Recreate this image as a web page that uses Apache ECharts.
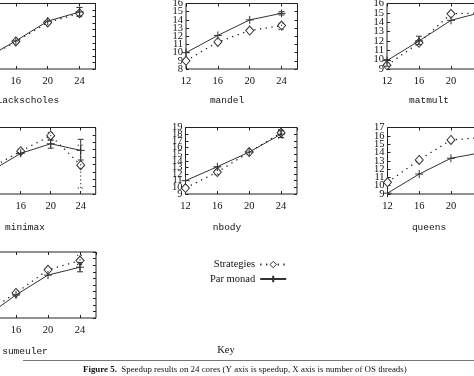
<!DOCTYPE html>
<html>
<head>
<meta charset="utf-8">
<script src="https://cdn.jsdelivr.net/npm/echarts@6/dist/echarts.min.js"></script>
<style>
  html, body { margin: 0; padding: 0; background: #fff; }
  #chart { width: 474px; height: 376px; }
</style>
</head>
<body>
<div id="chart"></div>
<script>
// x values: number of OS threads
const threads = [12, 16, 20, 24]

// speedup per benchmark
const blackscholesStrat = [9.4, 12.2, 15.1, 16.5]
const blackscholesPar   = [9.5, 12.3, 15.3, 16.7]
const mandelStrat       = [9.0, 11.3, 12.7, 13.3]
const mandelPar         = [10.0, 12.1, 14.0, 14.8]
const matmultStrat      = [9.4, 11.8, 14.9, 15.0]
const matmultPar        = [9.9, 12.0, 14.2, 15.1]
const minimaxStrat      = [6.5, 8.8, 10.9, 6.9]
const minimaxPar        = [6.1, 8.5, 9.8, 8.9]
const nbodyStrat        = [9.9, 12.3, 15.3, 18.2]
const nbodyPar          = [11.0, 13.1, 15.3, 18.0]
const queensStrat       = [10.4, 13.1, 15.5, 15.8]
const queensPar         = [9.1, 11.4, 13.3, 14.0]
const sumeulerStrat     = [10.6, 13.8, 17.3, 18.7]
const sumeulerPar       = [10.0, 13.5, 16.5, 17.7]

// error bars [low, high], null where too small to see
const blackscholesStratErr = [null, null, null, [16.0, 17.4]]
const blackscholesParErr   = [null, null, null, [16.1, 17.4]]
const mandelStratErr       = [null, null, null, [12.8, 13.6]]
const mandelParErr         = [null, null, null, [14.6, 15.0]]
const matmultStratErr      = [null, null, null, null]
const matmultParErr        = [[9.3, 10.0], [11.6, 12.5], null, null]
const minimaxStratErr      = [null, [8.6, 9.1], [10.3, 11.3], [3.8, 9.6]]
const minimaxParErr        = [null, null, [9.2, 10.3], [7.6, 10.4]]
const nbodyStratErr        = [null, [11.9, 13.0], null, [17.4, 18.7]]
const nbodyParErr          = [null, null, null, [17.5, 18.5]]
const queensStratErr       = [null, null, null, null]
const queensParErr         = [null, null, null, null]
const sumeulerStratErr     = [null, null, null, [18.1, 19.5]]
const sumeulerParErr       = [null, null, null, [17.0, 18.4]]

const legendNames = ['Strategies', 'Par monad']

const plots = [
  { name: 'blackscholes', strat: blackscholesStrat, par: blackscholesPar, stratErr: blackscholesStratErr, parErr: blackscholesParErr, yMin: 8, yMax: 18, left: -16, top: 3.5, width: 111.5, height: 65.5, tx: 25, ty: 100 },
  { name: 'mandel', strat: mandelStrat, par: mandelPar, stratErr: mandelStratErr, parErr: mandelParErr, yMin: 8, yMax: 16, left: 186, top: 3.5, width: 111.5, height: 65.5, tx: 227, ty: 100 },
  { name: 'matmult', strat: matmultStrat, par: matmultPar, stratErr: matmultStratErr, parErr: matmultParErr, yMin: 9, yMax: 16, left: 387, top: 3.5, width: 112, height: 65.5, tx: 429, ty: 100 },
  { name: 'minimax', strat: minimaxStrat, par: minimaxPar, stratErr: minimaxStratErr, parErr: minimaxParErr, yMin: 3, yMax: 12, left: -9.3, top: 127.5, width: 105, height: 66.5, tx: 25, ty: 227 },
  { name: 'nbody', strat: nbodyStrat, par: nbodyPar, stratErr: nbodyStratErr, parErr: nbodyParErr, yMin: 9, yMax: 19, left: 185.5, top: 127.5, width: 111.5, height: 66.5, tx: 227, ty: 227 },
  { name: 'queens', strat: queensStrat, par: queensPar, stratErr: queensStratErr, parErr: queensParErr, yMin: 9, yMax: 17, left: 387.5, top: 127.5, width: 111, height: 66.5, tx: 429, ty: 227 },
  { name: 'sumeuler', strat: sumeulerStrat, par: sumeulerPar, stratErr: sumeulerStratErr, parErr: sumeulerParErr, yMin: 10, yMax: 20, left: -16, top: 252, width: 112, height: 66, tx: 25, ty: 351 }
]

const serif = 'Liberation Serif'
const mono = 'Liberation Mono'
const ink = '#222'

const chart = echarts.init(document.getElementById('chart'), null, { renderer: 'canvas' })

const grid = []
const xAxis = []
const yAxis = []
const series = []
const graphic = []

const tick = { show: true, inside: true, length: 3, lineStyle: { color: ink, width: 1 } }
const label = { fontFamily: serif, fontSize: 10.5, color: '#111' }

// vertical bar with small caps, dotted for Strategies
const errorBar = (dotted) => (params, api) => {
  const x = api.value(0)
  const lo = api.coord([x, api.value(1)])
  const hi = api.coord([x, api.value(2)])
  const w = 3
  const style = { stroke: '#333', lineWidth: 1, lineDash: dotted ? [1.3, 2.5] : null }
  return {
    type: 'group',
    children: [
      { type: 'line', shape: { x1: lo[0], y1: lo[1], x2: hi[0], y2: hi[1] }, style },
      { type: 'line', shape: { x1: lo[0] - w, y1: lo[1], x2: lo[0] + w, y2: lo[1] }, style },
      { type: 'line', shape: { x1: hi[0] - w, y1: hi[1], x2: hi[0] + w, y2: hi[1] }, style }
    ]
  }
}

const errData = (err) => threads.map((t, k) => err[k] ? [t, err[k][0], err[k][1]] : null).filter(Boolean)

// integer tick labels for a y range
const tickLabels = (lo, hi) => Array.from({ length: hi - lo + 1 }, (_, k) => String(lo + k))

plots.forEach((p, i) => {
  // the figure is cropped, so grids are allowed to run past the page edges
  grid.push({ left: p.left, top: p.top, width: p.width, height: p.height, outerBoundsMode: 'none', containLabel: false,
    show: true, borderColor: ink, borderWidth: 1, backgroundColor: 'transparent' })

  // bottom axis with labels, top axis as mirror ticks
  xAxis.push({ gridIndex: i, type: 'value', position: 'bottom', min: 12, max: 26, interval: 4,
    axisLine: { show: false }, axisTick: tick, splitLine: { show: false },
    axisLabel: { ...label, margin: 7, showMaxLabel: false } })
  xAxis.push({ gridIndex: i, type: 'value', position: 'top', min: 12, max: 26, interval: 4,
    axisLine: { show: false }, axisTick: tick, splitLine: { show: false }, axisLabel: { show: false } })

  // value axes carry the data and the ticks
  yAxis.push({ gridIndex: i, type: 'value', position: 'left', min: p.yMin, max: p.yMax, interval: 1,
    axisLine: { show: false }, axisTick: tick, splitLine: { show: false }, axisLabel: { show: false } })
  yAxis.push({ gridIndex: i, type: 'value', position: 'right', min: p.yMin, max: p.yMax, interval: 1,
    axisLine: { show: false }, axisTick: tick, splitLine: { show: false }, axisLabel: { show: false } })
  // labels only: a category axis keeps every crowded label, as in the figure
  yAxis.push({ gridIndex: i, type: 'category', position: 'left', boundaryGap: false,
    data: tickLabels(p.yMin, p.yMax),
    axisLine: { show: false }, axisTick: { show: false }, splitLine: { show: false },
    axisLabel: { ...label, interval: 0, margin: 3 } })

  series.push({
    name: 'Strategies', type: 'line', xAxisIndex: 2 * i, yAxisIndex: 3 * i,
    data: threads.map((t, k) => [t, p.strat[k]]),
    symbol: 'diamond', symbolSize: [8, 9],
    lineStyle: { color: ink, width: 1.3, type: [1.3, 4.5] },
    itemStyle: { color: '#fff', borderColor: '#333', borderWidth: 1 },
    z: 3
  })
  series.push({
    name: 'Par monad', type: 'line', xAxisIndex: 2 * i, yAxisIndex: 3 * i,
    data: threads.map((t, k) => [t, p.par[k]]),
    symbol: 'path://M0,5H10M5,0V10', symbolSize: 8,
    lineStyle: { color: '#333', width: 1 },
    itemStyle: { color: '#333', borderColor: '#333', borderWidth: 1 },
    z: 4
  })
  series.push({
    type: 'custom', xAxisIndex: 2 * i, yAxisIndex: 3 * i, z: 5,
    data: errData(p.stratErr), encode: { x: 0, y: [1, 2] }, renderItem: errorBar(true)
  })
  series.push({
    type: 'custom', xAxisIndex: 2 * i, yAxisIndex: 3 * i, z: 5,
    data: errData(p.parErr), encode: { x: 0, y: [1, 2] }, renderItem: errorBar(false)
  })

  graphic.push({ type: 'text', x: p.tx, y: p.ty,
    style: { text: p.name, font: '9.5px "' + mono + '"', fill: '#111', textAlign: 'center', textVerticalAlign: 'middle' } })
})

graphic.push({ type: 'text', x: 226, y: 350,
  style: { text: 'Key', font: '10.5px "' + serif + '"', fill: '#111', textAlign: 'center', textVerticalAlign: 'middle' } })
graphic.push({ type: 'line', shape: { x1: 23, y1: 360.5, x2: 474, y2: 360.5 }, style: { stroke: '#777', lineWidth: 1 } })
graphic.push({ type: 'text', x: 83, y: 370,
  style: {
    text: '{b|Figure 5.}  Speedup results on 24 cores (Y axis is speedup, X axis is number of OS threads)',
    font: '8.9px "' + serif + '"', fill: '#111', textVerticalAlign: 'middle',
    rich: { b: { fontWeight: 'bold', fontFamily: serif, fontSize: 8.9, fill: '#111' } }
  } })

chart.setOption({
  animation: false,
  grid, xAxis, yAxis, series, graphic,
  legend: {
    data: [
      { name: legendNames[0], itemStyle: { color: '#fff', borderColor: '#333', borderWidth: 1 } },
      { name: legendNames[1] }
    ],
    orient: 'vertical', align: 'right', left: 210, top: 259, padding: 0,
    itemWidth: 26, itemHeight: 8, itemGap: 3.5, selectedMode: false,
    textStyle: { fontFamily: serif, fontSize: 10.5, color: '#111' }
  }
})

window.addEventListener('resize', () => {
  chart.resize()
})
</script>
</body>
</html>
